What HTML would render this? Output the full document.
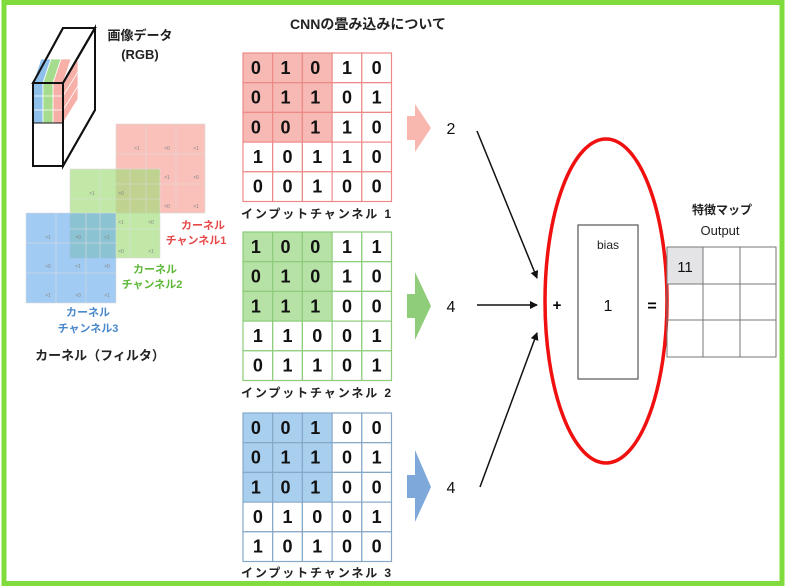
<!DOCTYPE html>
<html><head><meta charset="utf-8"><style>
html,body{margin:0;padding:0;background:#fff;}
svg{display:block;font-family:"Liberation Sans","Noto Sans CJK JP",sans-serif;}
</style></head><body>
<svg width="786" height="587" viewBox="0 0 786 587" xmlns="http://www.w3.org/2000/svg">
<rect x="0" y="0" width="786" height="587" fill="#fff"/>
<rect x="4" y="2.5" width="778" height="581" fill="none" stroke="#7fdc3c" stroke-width="5"/>
<text x="368" y="29" font-size="14" font-weight="bold" text-anchor="middle" fill="#222">CNNの畳み込みについて</text>

<!-- cube -->
<g stroke="#111" stroke-width="2" fill="none">
<polygon points="33,83 63,83 95,28 63,28" fill="#fff"/>
<polygon points="63,83 95,28 95,110 63,166" fill="#fff"/>
<rect x="33" y="83" width="30" height="83" fill="#fff"/>
</g>
<g stroke="#fff" stroke-width="0.8">
<rect x="33" y="83" width="10" height="40" fill="#8fc0ec"/>
<rect x="43" y="83" width="10" height="40" fill="#a5dc8e"/>
<rect x="53" y="83" width="10" height="40" fill="#f6b0a8"/>
<polygon points="33,83 43,83 51,59 41,59" fill="#8fc0ec"/>
<polygon points="43,83 53,83 61,59 51,59" fill="#a5dc8e"/>
<polygon points="53,83 63,83 71,59 61,59" fill="#f6b0a8"/>
<polygon points="63,83 78,59 78,99 63,123" fill="#f6b0a8"/>
<line x1="33" y1="96" x2="63" y2="96"/><line x1="33" y1="110" x2="63" y2="110"/>
<line x1="63" y1="96" x2="78" y2="72"/><line x1="63" y1="110" x2="78" y2="86"/>
</g>
<g stroke="#111" stroke-width="2" fill="none">
<polygon points="33,83 63,83 95,28 63,28"/>
<polygon points="63,83 95,28 95,110 63,166"/>
<rect x="33" y="83" width="30" height="83"/>
<line x1="33" y1="123" x2="63" y2="123" stroke-width="1"/>
</g>
<text x="140" y="40" font-size="13" font-weight="bold" text-anchor="middle" fill="#222">画像データ</text>
<text x="140" y="59" font-size="13" font-weight="bold" text-anchor="middle" fill="#222">(RGB)</text>

<!-- kernels -->
<g stroke="#ddd" stroke-width="0.6">
<rect x="116" y="124" width="89" height="89" fill="rgba(246,150,140,0.6)"/>
<rect x="70" y="169" width="90" height="89" fill="rgba(160,220,120,0.65)"/>
<rect x="26" y="213" width="90" height="90" fill="rgba(110,175,235,0.65)"/>
<path d="M146,124V213M176,124V213M116,154H205M116,184H205" fill="none"/>
<path d="M100,169V258M130,169V258M70,199H160M70,229H160" fill="none"/>
<path d="M56,213V303M86,213V303M26,243H116M26,273H116" fill="none"/>
</g>
<g font-size="5" fill="#888" text-anchor="middle">
<text x="137" y="150">×1</text><text x="167" y="150">×0</text><text x="196" y="150">×1</text>
<text x="167" y="179">×1</text><text x="196" y="179">×0</text>
<text x="167" y="208">×0</text><text x="196" y="208">×1</text>
<text x="92" y="195">×1</text><text x="121" y="195">×0</text>
<text x="121" y="224">×1</text><text x="151" y="224">×0</text>
<text x="121" y="253">×0</text><text x="151" y="253">×1</text>
<text x="48" y="239">×1</text><text x="78" y="239">×0</text><text x="107" y="239">×1</text>
<text x="48" y="268">×0</text><text x="78" y="268">×1</text><text x="107" y="268">×0</text>
<text x="48" y="297">×1</text><text x="78" y="297">×0</text><text x="107" y="297">×1</text>
</g>
<text x="203" y="229" font-size="11" font-weight="bold" text-anchor="middle" fill="#e64848">カーネル</text>
<text x="196" y="244" font-size="11" font-weight="bold" text-anchor="middle" fill="#e64848">チャンネル1</text>
<text x="155" y="273" font-size="11" font-weight="bold" text-anchor="middle" fill="#5fb83a">カーネル</text>
<text x="152" y="288" font-size="11" font-weight="bold" text-anchor="middle" fill="#5fb83a">チャンネル2</text>
<text x="88" y="316" font-size="11" font-weight="bold" text-anchor="middle" fill="#4a88cc">カーネル</text>
<text x="88" y="332" font-size="11" font-weight="bold" text-anchor="middle" fill="#4a88cc">チャンネル3</text>
<text x="100" y="360" font-size="13" font-weight="bold" text-anchor="middle" fill="#222">カーネル（フィルタ）</text>

<!-- grids -->
<g id="grids" font-size="18" font-weight="600" text-anchor="middle" fill="#111"></g>
<g font-size="12" font-weight="bold" fill="#222">
<text x="241" y="218" textLength="150" lengthAdjust="spacing">インプットチャンネル 1</text>
<text x="241" y="397" textLength="150" lengthAdjust="spacing">インプットチャンネル 2</text>
<text x="241" y="577" textLength="150" lengthAdjust="spacing">インプットチャンネル 3</text>
</g>

<!-- block arrows -->
<polygon points="407,116 415,116 415,104 431,128 415,152 415,140 407,140" fill="#f8b8b0"/>
<polygon points="407,294 415,294 415,272 431,306 415,340 415,318 407,318" fill="#8fcd7a"/>
<polygon points="407,475 415,475 415,450 431,487 415,522 415,498 407,498" fill="#7ea8da"/>
<g font-size="16" fill="#111" text-anchor="middle">
<text x="451" y="134">2</text><text x="451" y="312">4</text><text x="451" y="493">4</text>
</g>
<defs><marker id="ah" markerWidth="8" markerHeight="8" refX="7" refY="4" orient="auto" markerUnits="userSpaceOnUse"><polygon points="0,0 8,4 0,8" fill="#111"/></marker></defs>
<g stroke="#111" stroke-width="1.5" marker-end="url(#ah)">
<line x1="477" y1="131" x2="537" y2="278"/>
<line x1="477" y1="305" x2="537" y2="305"/>
<line x1="480" y1="487" x2="537" y2="333"/>
</g>
<text x="557" y="310" font-size="15" font-weight="bold" text-anchor="middle">+</text>
<rect x="578" y="225" width="60" height="154" fill="#fff" stroke="#555" stroke-width="1.2"/>
<text x="608" y="249" font-size="12" text-anchor="middle" fill="#222">bias</text>
<text x="608" y="311" font-size="16" text-anchor="middle" fill="#111">1</text>
<text x="652" y="311" font-size="16" font-weight="bold" text-anchor="middle">=</text>
<ellipse cx="606" cy="301" rx="61" ry="162" fill="none" stroke="#f01010" stroke-width="3.5"/>
<text x="722" y="214" font-size="12" font-weight="bold" text-anchor="middle" fill="#222">特徴マップ</text>
<text x="720" y="235" font-size="13" text-anchor="middle" fill="#222">Output</text>
<rect x="667" y="247" width="36" height="37" fill="#e4e4e6"/>
<g stroke="#777" stroke-width="1" fill="none">
<rect x="667" y="247" width="109" height="110"/>
<path d="M703,247V357M740,247V357M667,284H776M667,320H776"/>
</g>
<text x="685" y="272" font-size="15" text-anchor="middle" fill="#111">11</text>
</svg>
<script>
(function(){
var ns="http://www.w3.org/2000/svg",g=document.getElementById("grids");
var data=[
{y:53,fill:"#f7b9b4",st:"#ec8a88",v:["01010","01101","00110","10110","00100"]},
{y:232,fill:"#b7e2a6",st:"#8ccc7a",v:["10011","01010","11100","11001","01101"]},
{y:413,fill:"#a9cfef",st:"#86a8c8",v:["00100","01101","10100","01001","10100"]}];
var x0=243,c=29.7;
data.forEach(function(d){
 for(var r=0;r<5;r++)for(var k=0;k<5;k++){
  var R=document.createElementNS(ns,"rect");
  R.setAttribute("x",x0+k*c);R.setAttribute("y",d.y+r*c);
  R.setAttribute("width",c);R.setAttribute("height",c);
  R.setAttribute("fill",(r<3&&k<3)?d.fill:"#fff");
  R.setAttribute("stroke",d.st);R.setAttribute("stroke-width","1.2");
  g.appendChild(R);
  var T=document.createElementNS(ns,"text");
  T.setAttribute("x",x0+k*c+c/2-(r<3&&k<3?2:0));T.setAttribute("y",d.y+r*c+c/2+6);
  T.textContent=d.v[r][k];g.appendChild(T);
 }
});
})();
</script>
</body></html>
